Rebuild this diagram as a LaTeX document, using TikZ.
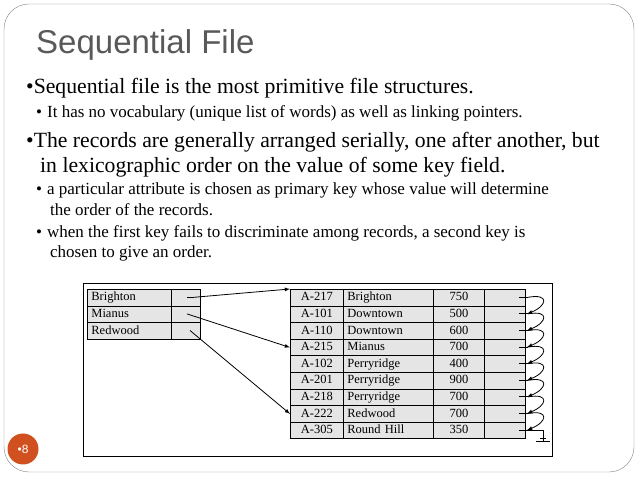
\documentclass[tikz,border=0pt]{standalone}
\usepackage{fontspec}
\setmainfont{Liberation Serif}
\newfontfamily\titlefont{Liberation Sans}
\definecolor{slideorange}{HTML}{D0501F}
\definecolor{cellgray}{gray}{0.9}
\begin{document}
\begin{tikzpicture}[x=1pt,y=-1pt,
  cell/.style={draw,thick,fill=cellgray,minimum height=16.6pt,inner sep=0pt,text height=9pt,text depth=2.5pt,font=\fontsize{12.5}{12.5}\selectfont},
  ptr/.style={-latex,thick},
  body/.style={anchor=west,inner sep=0pt,font=\fontsize{21.7}{21.7}\selectfont},
  sub/.style={anchor=west,inner sep=0pt,font=\fontsize{17}{17}\selectfont}]
\useasboundingbox (0,0) rectangle (638,478);
\draw[gray,rounded corners=25pt] (4,4) rectangle (634,472);
\node[anchor=west,inner sep=0pt,text=black!65,font=\titlefont\fontsize{33}{33}\selectfont] (title) at (36,45) {Sequential File};
\node[body] (l1) at (26,88) {•Sequential file is the most primitive file structures.};
\node[sub] (l2) at (36,113) {•\hspace{5pt}It has no vocabulary (unique list of words) as well as linking pointers.};
\node[body] (l3) at (26,142) {•The records are generally arranged serially, one after another, but};
\node[body] (l4) at (40,167) {in lexicographic order on the value of some key field.};
\node[sub] (l5) at (36,190) {•\hspace{5pt}a particular attribute is chosen as primary key whose value will determine};
\node[sub] (l6) at (50,210) {the order of the records.};
\node[sub] (l7) at (36,233) {•\hspace{5pt}when the first key fails to discriminate among records, a second key is};
\node[sub] (l8) at (50,253) {chosen to give an order.};
\draw[thick] (83,283) rectangle (552,456);
% left index
\foreach \n [count=\i] in {Brighton,Mianus,Redwood}{
  \node[cell,minimum width=84pt,anchor=north west,text width=76pt,align=left] (k\i) at (87,{289+(\i-1)*16.6}) {\n};
  \node[cell,minimum width=29pt,anchor=north west] (kp\i) at (171,{289+(\i-1)*16.6}) {};
  \coordinate (ks\i) at (187,{297.3+(\i-1)*16.6});
}
% right file
\foreach \a/\b/\c [count=\i] in {A-217/Brighton/750,A-101/Downtown/500,A-110/Downtown/600,A-215/Mianus/700,A-102/Perryridge/400,A-201/Perryridge/900,A-218/Perryridge/700,A-222/Redwood/700,A-305/Round Hill/350}{
  \node[cell,minimum width=53pt,anchor=north west] (a\i) at (290,{289+(\i-1)*16.6}) {\a};
  \node[cell,minimum width=90pt,anchor=north west,text width=82pt,align=left] (b\i) at (343,{289+(\i-1)*16.6}) {\b};
  \node[cell,minimum width=51pt,anchor=north west] (c\i) at (433,{289+(\i-1)*16.6}) {\c};
  \node[cell,minimum width=41pt,anchor=north west] (d\i) at (484,{289+(\i-1)*16.6}) {};
  \coordinate (s\i) at (519,{297.3+(\i-1)*16.6});
}
\foreach \i [evaluate=\i as \j using int(\i+1)] in {1,...,8}{
  \draw[thick] (s\i) -- ++(9,0);
  \draw[ptr] ([xshift=9pt]s\i) .. controls ++(22,-4) and ++(20,-8) .. ([xshift=8pt]s\j);
}
\draw[thick] (s9) -- ++(24,0) coordinate (g) -- ++(0,11) coordinate (g2);
\draw[thick] ([xshift=-7pt]g2) -- ([xshift=7pt]g2);
\draw[thick] ([xshift=-3pt,yshift=3pt]g2) -- ([xshift=3pt,yshift=3pt]g2);
\draw[thick] ([yshift=0pt]ks1) -- ++(7,0);
\draw[ptr] ([xshift=7pt]ks1) -- (a1.north west);
\draw[ptr] (ks2) -- (a4.west);
\draw[ptr] ([xshift=3pt]ks3) -- (a8.west);
% page number
\node[circle,fill=slideorange,minimum size=31pt,inner sep=0pt,text=white,font=\titlefont\fontsize{12}{12}\selectfont] (pg) at (23,449) {•8};
\end{tikzpicture}
\end{document}
